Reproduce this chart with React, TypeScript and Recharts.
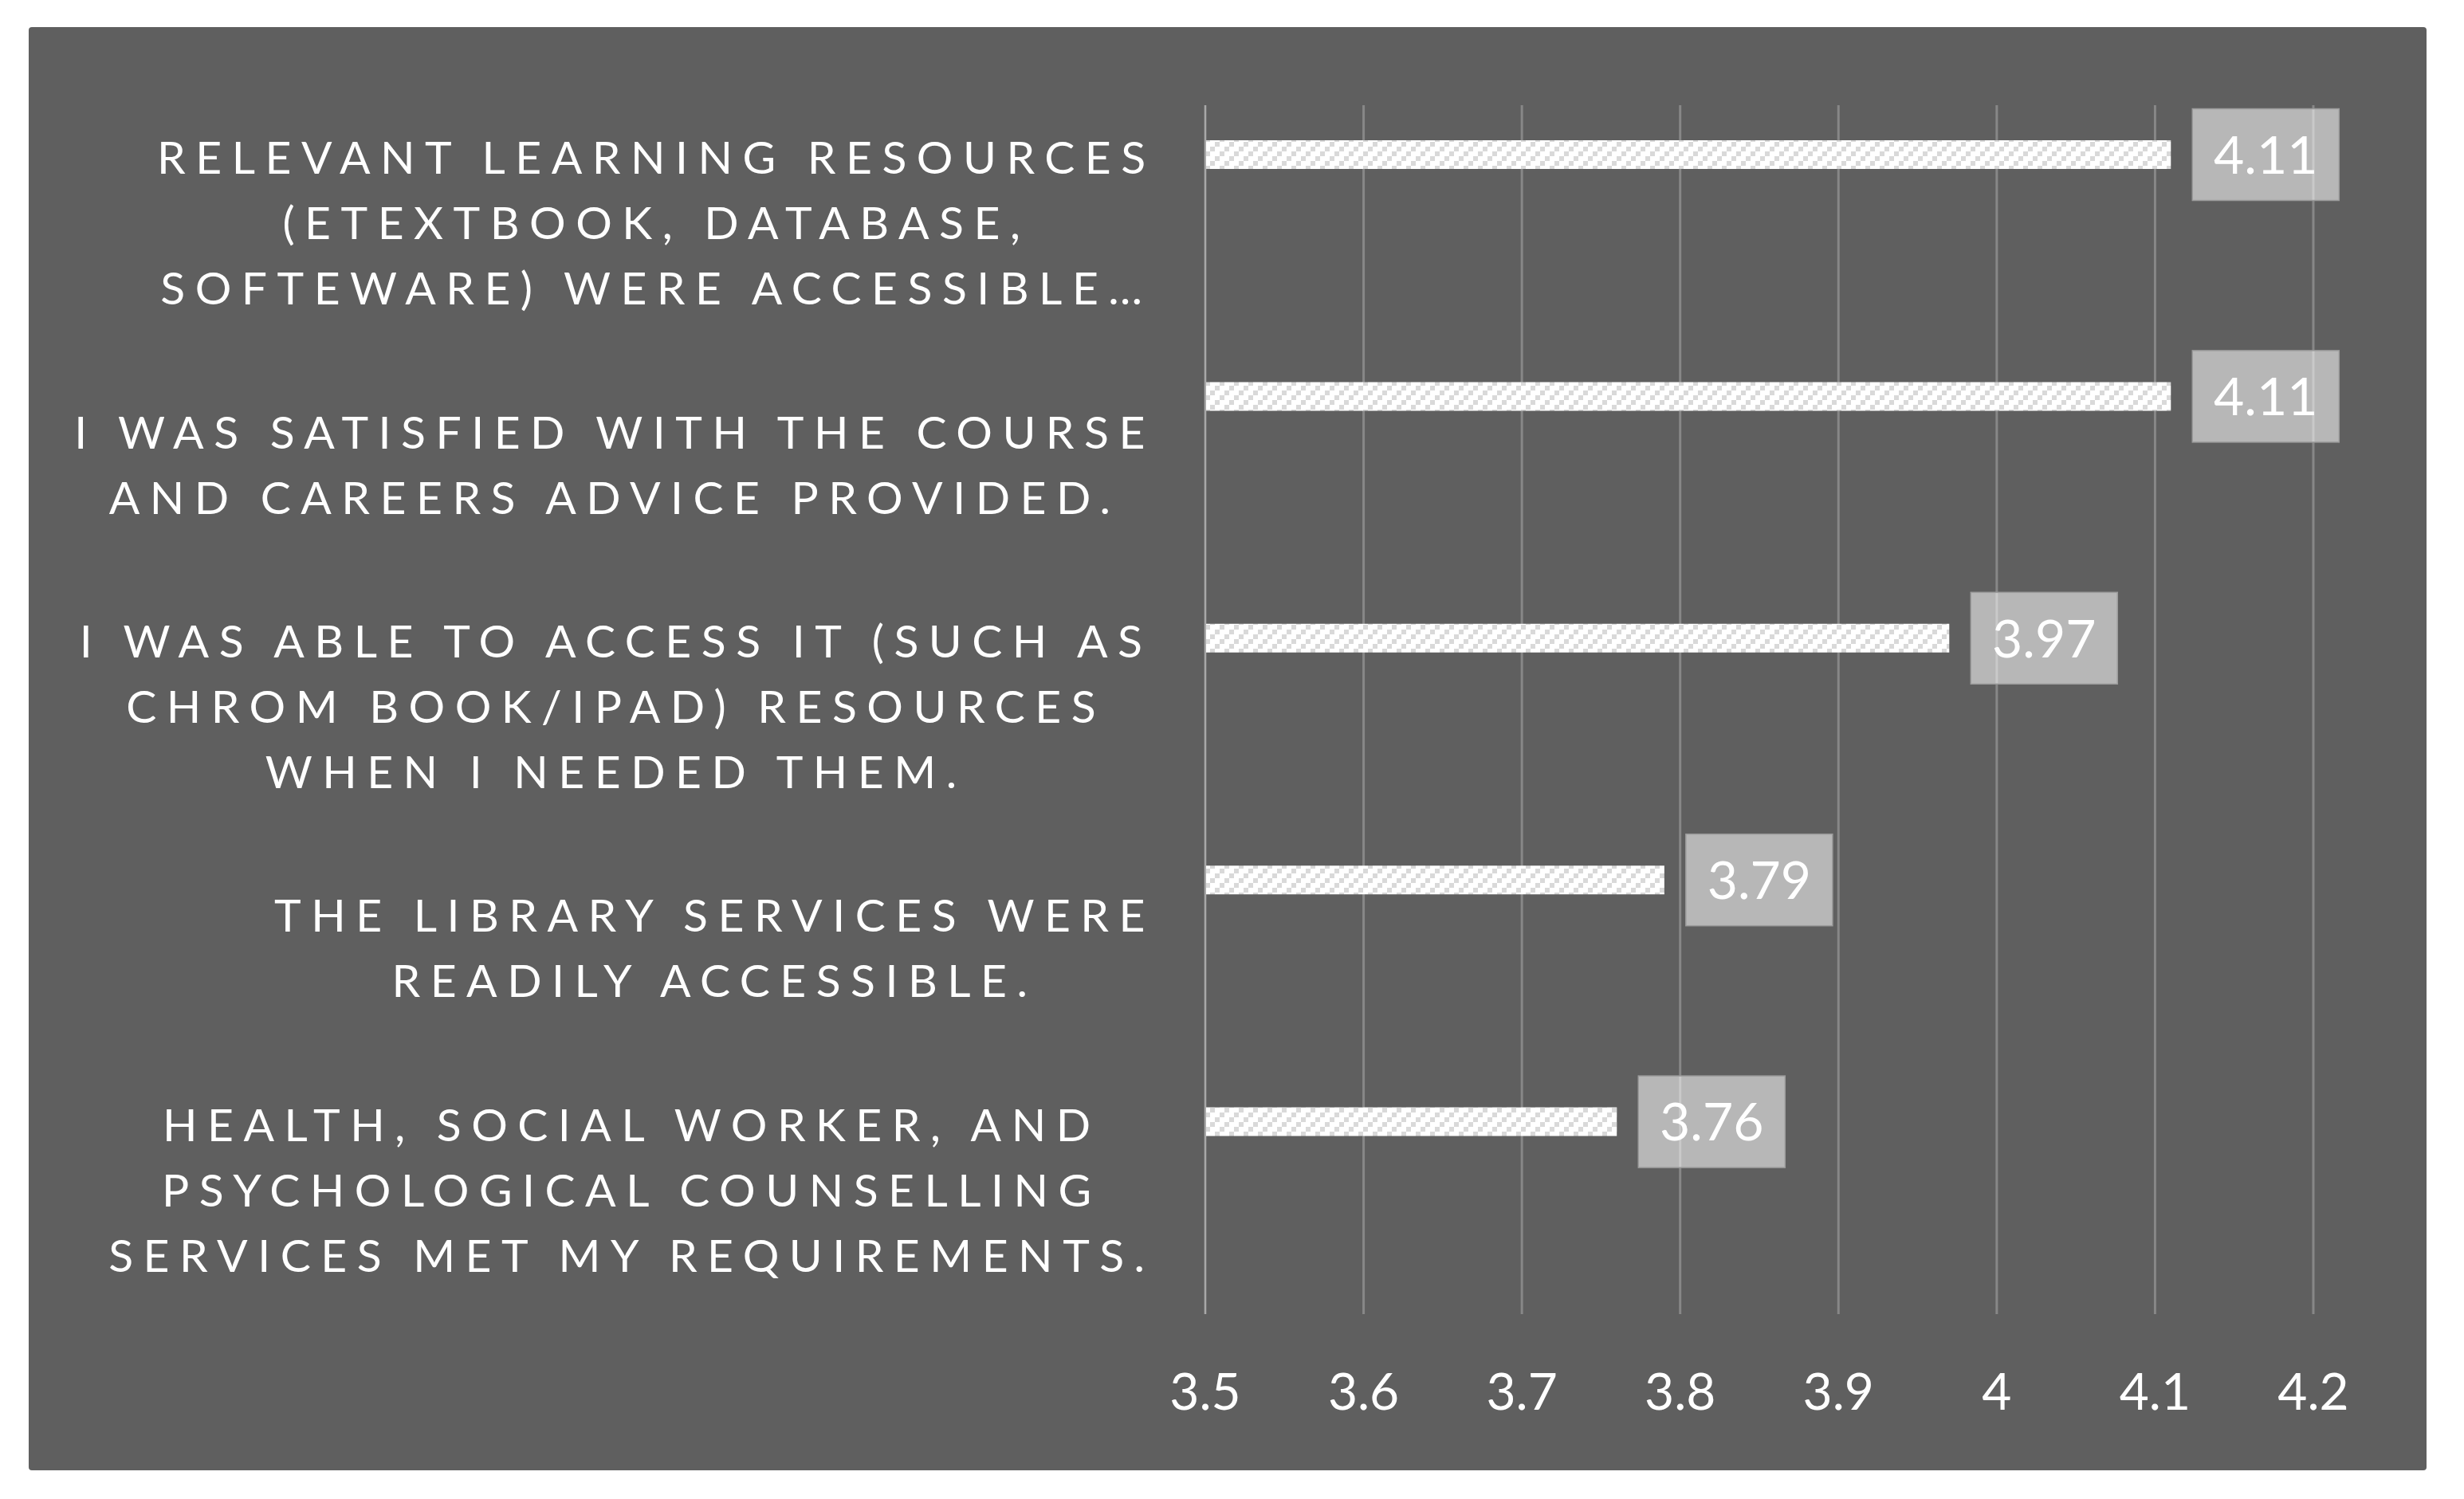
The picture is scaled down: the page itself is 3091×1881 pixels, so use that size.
import React from "react";
import { BarChart, Bar, XAxis, YAxis, CartesianGrid, LabelList } from "recharts";

const CATEGORIES = [
  "RELEVANT LEARNING RESOURCES\n(ETEXTBOOK, DATABASE,\nSOFTEWARE) WERE ACCESSIBLE…",
  "I WAS SATISFIED WITH THE COURSE\nAND CAREERS ADVICE PROVIDED.",
  "I WAS ABLE TO ACCESS IT (SUCH AS\nCHROM BOOK/IPAD) RESOURCES\nWHEN I NEEDED THEM.",
  "THE LIBRARY SERVICES WERE\nREADILY ACCESSIBLE.",
  "HEALTH, SOCIAL WORKER, AND\nPSYCHOLOGICAL COUNSELLING\nSERVICES MET MY REQUIREMENTS.",
];
const SCORES = [4.11, 4.11, 3.97, 3.79, 3.76];
const X_TICKS = [3.5, 3.6, 3.7, 3.8, 3.9, 4, 4.1, 4.2];
// empty series slots from the source chart (they only take up room in each band)
const EMPTY_SERIES = ["s2", "s3", "s4", "s5", "s6"];

const data = CATEGORIES.map((name, i) => ({ name, score: SCORES[i] }));

const FONT = "Lato, 'Open Sans', sans-serif";
const LABEL_SIZE = 57;
const LABEL_SPACING = 12.5;
const LINE_H = 82;

let ctx: CanvasRenderingContext2D | null = null;
function measure(text: string): number {
  if (!ctx) {
    ctx = document.createElement("canvas").getContext("2d");
  }
  if (!ctx) return text.length * LABEL_SIZE * 0.7;
  ctx.font = `${LABEL_SIZE}px Lato`;
  return ctx.measureText(text).width + LABEL_SPACING * (text.length - 1);
}

function CategoryTick(props: any) {
  const { x, y, payload } = props;
  const lines: string[] = String(payload.value).split("\n");
  const blockW = Math.max(...lines.map(measure));
  const cx = x - 74 - blockW / 2;
  const cy = y - 4;
  return (
    <g>
      {lines.map((line, i) => (
        <text
          key={i}
          x={cx + LABEL_SPACING / 2}
          y={cy + (i - (lines.length - 1) / 2) * LINE_H + LABEL_SIZE * 0.36}
          textAnchor="middle"
          fill="#ffffff"
          fontFamily={FONT}
          fontSize={LABEL_SIZE}
          letterSpacing={LABEL_SPACING}
        >
          {line}
        </text>
      ))}
    </g>
  );
}

function ValueTick(props: any) {
  const { x, y, payload } = props;
  return (
    <text x={x} y={y + 120} textAnchor="middle" fill="#ffffff" fontFamily={FONT} fontSize={64}>
      {String(payload.value)}
    </text>
  );
}

function ValueBox(props: any) {
  const { x, y, width, height, value } = props;
  if (value == null) return null;
  const bx = x + width + 27;
  const cy = y + height / 2;
  return (
    <g>
      <rect
        x={bx}
        y={cy - 57.5}
        width={184}
        height={115}
        fill="#ffffff"
        fillOpacity={0.55}
        stroke="#9c9c9c"
        strokeWidth={1.5}
      />
      <text
        x={bx + 92}
        y={cy + 66 * 0.36}
        textAnchor="middle"
        fill="#ffffff"
        fontFamily={FONT}
        fontSize={66}
      >
        {String(value)}
      </text>
    </g>
  );
}

export default function App() {
  return (
    <div
      style={{
        position: "absolute",
        left: 0,
        top: 0,
        width: 3091,
        height: 1881,
        background: "#ffffff",
      }}
    >
      <div
        style={{
          position: "absolute",
          left: 36,
          top: 34,
          width: 3008,
          height: 1811,
          background: "#5f5f5f",
          borderRadius: 4,
        }}
      >
        <BarChart
          width={3008}
          height={1811}
          data={data}
          layout="vertical"
          margin={{ top: 98, right: 142, bottom: 0, left: 0 }}
          barGap={0}
        >
          <defs>
            <pattern id="hatch" width="18" height="18" patternUnits="userSpaceOnUse">
              <rect width="18" height="18" fill="#ffffff" />
              <rect x="12" y="0" width="6" height="6" fill="#d9d9d9" />
              <rect x="6" y="6" width="6" height="6" fill="#d9d9d9" />
              <rect x="0" y="12" width="6" height="6" fill="#d9d9d9" />
            </pattern>
          </defs>
          <CartesianGrid horizontal={false} stroke="#878787" strokeWidth={3} />
          <XAxis
            type="number"
            domain={[3.5, 4.2]}
            ticks={X_TICKS}
            axisLine={false}
            tickLine={false}
            tickSize={0}
            tickMargin={0}
            height={196}
            tick={<ValueTick />}
            interval={0}
          />
          <YAxis
            type="category"
            dataKey="name"
            width={1476}
            axisLine={{ stroke: "#a8a8a8", strokeWidth: 2 }}
            tickLine={false}
            tickSize={0}
            tickMargin={0}
            tick={<CategoryTick />}
            interval={0}
          />
          <Bar dataKey="score" fill="url(#hatch)" barSize={36} isAnimationActive={false}>
            <LabelList dataKey="score" content={<ValueBox />} />
          </Bar>
          {EMPTY_SERIES.map((k) => (
            <Bar key={k} dataKey={k} barSize={36} fill="none" legendType="none" isAnimationActive={false} />
          ))}
        </BarChart>
      </div>
    </div>
  );
}
